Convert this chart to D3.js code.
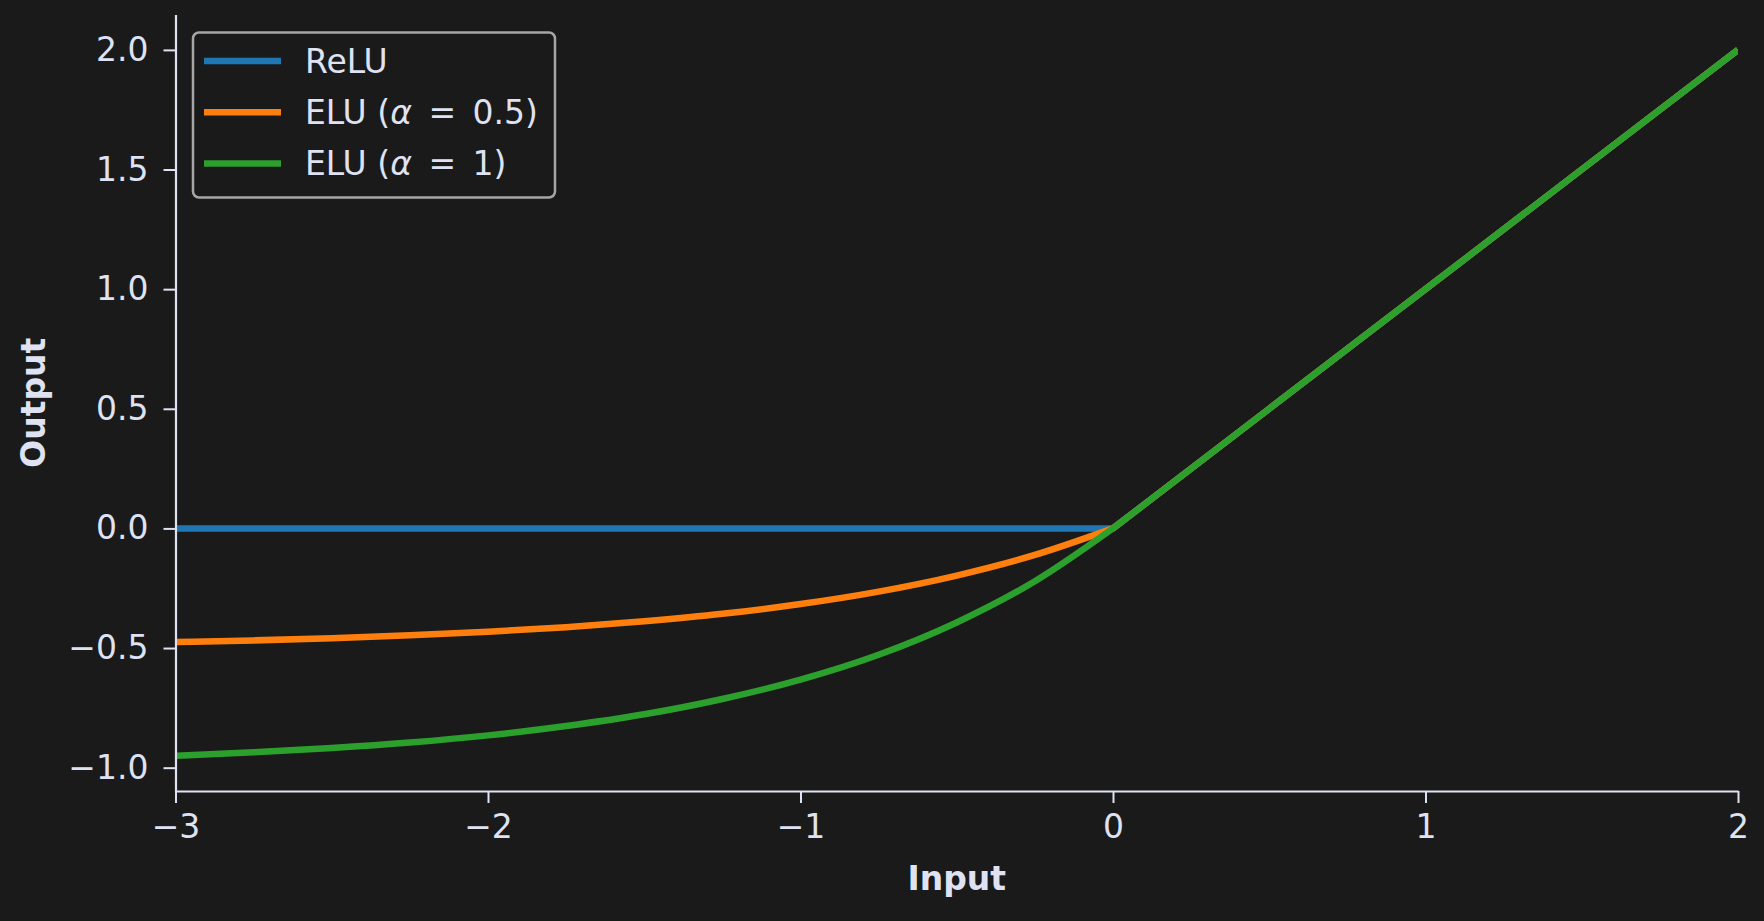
<!DOCTYPE html>
<html>
<head>
<meta charset="utf-8">
<script src="https://cdn.jsdelivr.net/npm/d3@7"></script>
<style>
  body { margin: 0; background: #1a1a1a; }
  text { font-family: "DejaVu Sans", sans-serif; fill: #dfe2f2; }
</style>
</head>
<body>
<script>
// values
const inputs   = [-3, -2.75, -2.5, -2.25, -2, -1.75, -1.5, -1.25, -1, -0.75, -0.5, -0.25, 0, 0.5, 1, 1.5, 2];
const relu     = [0, 0, 0, 0, 0, 0, 0, 0, 0, 0, 0, 0, 0, 0.5, 1, 1.5, 2];
const eluHalf  = [-0.475, -0.468, -0.459, -0.447, -0.432, -0.413, -0.388, -0.357, -0.316, -0.264, -0.197, -0.111, 0, 0.5, 1, 1.5, 2];
const eluOne   = [-0.950, -0.936, -0.918, -0.895, -0.865, -0.826, -0.777, -0.713, -0.632, -0.528, -0.393, -0.221, 0, 0.5, 1, 1.5, 2];
const seriesNames = ["ReLU", "ELU (α = 0.5)", "ELU (α = 1)"];
const seriesColors = ["#1f77b4", "#ff7f0e", "#2ca02c"];
const xTicks = [-3, -2, -1, 0, 1, 2];
const yTicks = [-1, -0.5, 0, 0.5, 1, 1.5, 2];

const W = 1764, H = 921;
const plotLeft = 175.5, plotRight = 1738, plotTop = 14.6, plotBottom = 791;
const axisColor = "#dfe2f2";

const svg = d3.select("body").append("svg")
    .attr("width", W)
    .attr("height", H);

svg.append("rect").attr("width", W).attr("height", H).attr("fill", "#1a1a1a");

const x = d3.scaleLinear().domain([-3, 2]).range([plotLeft, plotRight]);
const y = d3.scaleLinear().domain([-1.0975, 2.1475]).range([plotBottom, plotTop]);

svg.append("clipPath").attr("id", "plot")
  .append("rect")
    .attr("x", plotLeft).attr("y", plotTop)
    .attr("width", plotRight - plotLeft).attr("height", plotBottom - plotTop);

// lines: smooth for x <= 0, straight for x >= 0 (keeps the kink at 0)
const series = [relu, eluHalf, eluOne];
const zeroIdx = inputs.indexOf(0);
const smooth = d3.line().x(d => x(d[0])).y(d => y(d[1])).curve(d3.curveMonotoneX);
const straight = d3.line().x(d => x(d[0])).y(d => y(d[1]));

function pathFor(values) {
  const pts = values.map((v, i) => [inputs[i], v]);
  const neg = smooth(pts.slice(0, zeroIdx + 1));
  const pos = straight(pts.slice(zeroIdx)).replace(/^M/, "L");
  return neg + pos;
}

svg.append("g").attr("clip-path", "url(#plot)")
  .selectAll("path")
  .data(series)
  .enter()
  .append("path")
    .attr("d", d => pathFor(d))
    .attr("fill", "none")
    .attr("stroke", (d, i) => seriesColors[i])
    .attr("stroke-width", 6.5)
    .attr("stroke-linejoin", "round");

// axes
const xAxis = svg.append("g")
    .attr("transform", `translate(0,${plotBottom})`)
    .call(d3.axisBottom(x).tickValues(xTicks).tickFormat(d3.format("d"))
      .tickSize(12).tickSizeOuter(0).tickPadding(12));

const yAxis = svg.append("g")
    .attr("transform", `translate(${plotLeft},0)`)
    .call(d3.axisLeft(y).tickValues(yTicks).tickFormat(d3.format(".1f"))
      .tickSize(12).tickSizeOuter(0).tickPadding(15));

[xAxis, yAxis].forEach(g => {
  g.select(".domain").attr("stroke", axisColor).attr("stroke-width", 2.2);
  g.selectAll(".tick line").attr("stroke", axisColor).attr("stroke-width", 2);
  g.selectAll(".tick text")
      .attr("fill", axisColor)
      .style("font-family", "'DejaVu Sans', sans-serif")
      .style("font-size", "33px");
});

// axis labels
svg.append("text")
    .attr("x", (plotLeft + plotRight) / 2)
    .attr("y", 890)
    .attr("text-anchor", "middle")
    .style("font-size", "33px")
    .style("font-weight", "bold")
    .text("Input");

svg.append("text")
    .attr("transform", `translate(45,${(plotTop + plotBottom) / 2}) rotate(-90)`)
    .attr("text-anchor", "middle")
    .style("font-size", "33px")
    .style("font-weight", "bold")
    .text("Output");

// legend
const legend = svg.append("g");
legend.append("rect")
    .attr("x", 193).attr("y", 32.5)
    .attr("width", 362).attr("height", 165)
    .attr("rx", 6)
    .attr("fill", "#1a1a1a").attr("fill-opacity", 0.8)
    .attr("stroke", "#a6a6a6").attr("stroke-width", 2.5);

const rows = legend.selectAll("g.row")
  .data(seriesNames)
  .enter()
  .append("g")
    .attr("class", "row")
    .attr("transform", (d, i) => `translate(0,${61 + i * 51.3})`);

rows.append("line")
    .attr("x1", 204).attr("x2", 281)
    .attr("stroke", (d, i) => seriesColors[i])
    .attr("stroke-width", 6.5);

rows.append("text")
    .attr("x", 305)
    .attr("dy", "0.35em")
    .style("font-size", "33px")
    .each(function(d) {
      const t = d3.select(this);
      const parts = d.split("α");
      t.append("tspan").text(parts[0]);
      if (parts.length > 1) {
        // math-style spacing around "="
        t.append("tspan").style("font-style", "italic").text("α");
        t.append("tspan").text(parts[1].replace(/ = /, "\u2002=\u2002"));
      }
    });
</script>
</body>
</html>
